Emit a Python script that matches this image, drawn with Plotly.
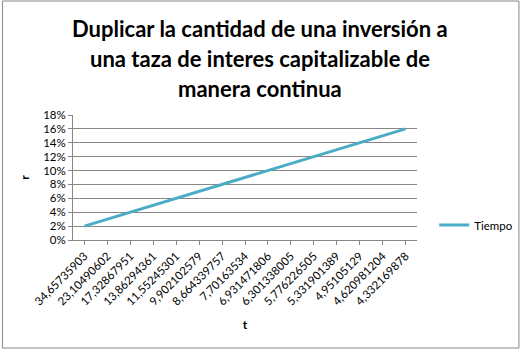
import plotly.graph_objects as go

t_labels = ["34,65735903", "23,10490602", "17,32867951", "13,86294361", "11,55245301",
            "9,902102579", "8,664339757", "7,70163534", "6,931471806", "6,301338005",
            "5,776226505", "5,331901389", "4,95105129", "4,620981204", "4,332169878"]
r_values = [0.02, 0.03, 0.04, 0.05, 0.06, 0.07, 0.08, 0.09, 0.10, 0.11, 0.12, 0.13, 0.14, 0.15, 0.16]
title_lines = ["Duplicar la cantidad de una inversión a",
               "una taza de interes capitalizable de",
               "manera continua"]

FONT = "Lato, Open Sans, sans-serif"
PL, PR, PT, PB = 73, 106, 115, 110
PW, PH = 530 - PL - PR, 350 - PT - PB

fig = go.Figure()
fig.add_trace(go.Scatter(x=t_labels, y=r_values, mode="lines", name="Tiempo",
                         line=dict(color="#4BACC6", width=3)))

fig.update_layout(
    width=530, height=350,
    margin=dict(l=PL, r=PR, t=PT, b=PB),
    paper_bgcolor="white", plot_bgcolor="white",
    font=dict(family=FONT, color="#000000", size=11),
    showlegend=True,
    legend=dict(x=1.05, xanchor="left", y=0.12, yanchor="middle",
                font=dict(size=11.5, family=FONT), bgcolor="rgba(0,0,0,0)"),
)
for i, line in enumerate(title_lines):
    py = 28 + 30 * i
    fig.add_annotation(text=f"<b>{line}</b>", xref="paper", yref="paper",
                       x=(264 - PL) / PW, y=(PT + PH - py) / PH,
                       xanchor="center", yanchor="middle", showarrow=False,
                       font=dict(size=22, family=FONT, color="#000000"))
# outer chart border
fig.add_shape(type="rect", xref="paper", yref="paper",
              x0=-(PL - 1) / PW, x1=1 + (PR - 2) / PW, y0=-(PB - 2) / PH, y1=1 + (PT - 1) / PH,
              line=dict(color="#868686", width=1), layer="below")

fig.update_xaxes(type="category", range=[-0.5, 14.5], tickangle=-45,
                 showgrid=False, showline=True, linecolor="#868686", linewidth=1,
                 ticks="outside", ticklen=4, tickcolor="#868686",
                 tickfont=dict(size=11.5),
                 title=dict(text="<b>t</b>", font=dict(size=12), standoff=14))
fig.update_yaxes(range=[0, 0.18], dtick=0.02, tickformat=".0%",
                 showgrid=True, gridcolor="#868686", gridwidth=1,
                 showline=True, linecolor="#868686", linewidth=1,
                 ticks="outside", ticklen=4, tickcolor="#868686",
                 tickfont=dict(size=11.5), zeroline=False,
                 title=dict(text="<b>r</b>", font=dict(size=12), standoff=10))

fig.write_html("out.html")
